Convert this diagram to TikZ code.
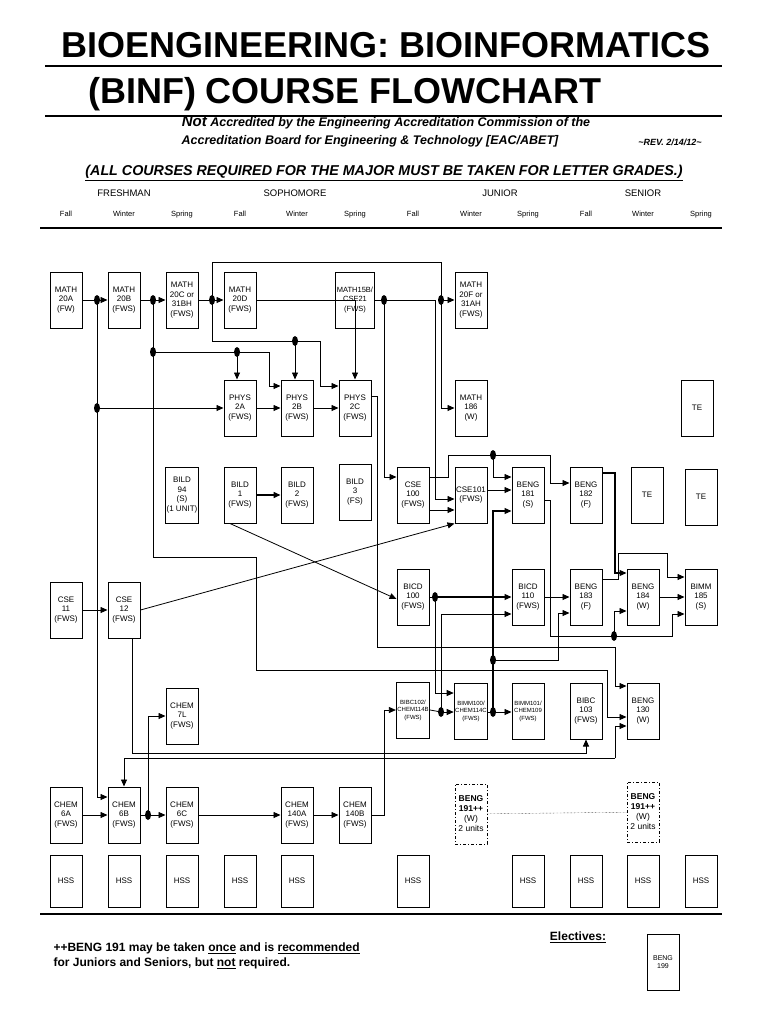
\documentclass[tikz,border=0pt]{standalone}
\usepackage{fontspec}
\setmainfont{Liberation Sans}
\usetikzlibrary{arrows.meta,shapes.geometric}
\begin{document}
\begin{tikzpicture}[x=1pt,y=-1pt,
 box/.style={draw,line width=1pt,minimum width=32pt,minimum height=56pt,align=center,inner sep=1pt,font=\fontsize{8}{9.5}\selectfont},
 sbox/.style={box,font=\fontsize{6}{7.5}\selectfont},
 dbox/.style={box,dash dot,line width=0.8pt,minimum height=60pt,font=\fontsize{8.5}{10}\selectfont},
 dot/.style={ellipse,fill=black,minimum width=6pt,minimum height=10pt,inner sep=0pt},
 arr/.style={-{Triangle[length=7pt,width=6pt]}},
 ln/.style={line width=0.8pt}]
\useasboundingbox (0,0) rectangle (768,1024);
\fill[white] (0,0) rectangle (768,1024);
% header
\node[font=\fontsize{36}{38}\bfseries] (t1) at (386,45) {BIOENGINEERING: BIOINFORMATICS};
\node[font=\fontsize{36}{38}\bfseries] (t2) at (345,94) {(BINF) COURSE FLOWCHART};
\draw[line width=2pt] (45,66) -- (722,66);
\draw[line width=2pt] (45,116) -- (722,116);
\node[font=\fontsize{12.5}{14}\bfseries\itshape] (s1) at (386,123) {{\fontsize{15}{16}\selectfont Not} Accredited by the Engineering Accreditation Commission of the};
\node[font=\fontsize{12.5}{14}\bfseries\itshape] (s2) at (370,141) {Accreditation Board for Engineering \& Technology [EAC/ABET]};
\node[font=\fontsize{9}{10}\bfseries\itshape] (rev) at (670,142) {\textasciitilde REV. 2/14/12\textasciitilde};
\node[font=\fontsize{14.3}{16}\bfseries\itshape] (all) at (384,173) {\underline{(ALL COURSES REQUIRED FOR THE MAJOR MUST BE TAKEN FOR LETTER GRADES.)}};
\foreach \t/\x in {FRESHMAN/124,SOPHOMORE/295,JUNIOR/500,SENIOR/643}
  \node[font=\fontsize{9.5}{11}\selectfont,anchor=base] at (\x,197) {\t};
\foreach \t/\x in {Fall/66,Winter/124,Spring/182,Fall/240,Winter/297,Spring/355,Fall/413,Winter/471,Spring/528,Fall/586,Winter/643,Spring/701}
  \node[font=\fontsize{7.5}{9}\selectfont,anchor=base] at (\x,217) {\t};
\draw[line width=1.2pt] (40,228) -- (722,228);
\draw[line width=1.2pt] (40,914) -- (722,914);
% row 1
\node[box] (m20a) at (66,300) {MATH\\20A\\(FW)};
\node[box] (m20b) at (124,300) {MATH\\20B\\(FWS)};
\node[box] (m20c) at (182,300) {MATH\\20C or\\31BH\\(FWS)};
\node[box] (m20d) at (240,300) {MATH\\20D\\(FWS)};
\node[box,font=\fontsize{7.5}{9.5}\selectfont] (m15b) at (355,300) {MATH15B/\\CSE21\\(FWS)};
\node[box] (m20f) at (471,300) {MATH\\20F or\\31AH\\(FWS)};
% row 2
\node[box] (p2a) at (240,408) {PHYS\\2A\\(FWS)};
\node[box] (p2b) at (297,408) {PHYS\\2B\\(FWS)};
\node[box] (p2c) at (355,408) {PHYS\\2C\\(FWS)};
\node[box] (m186) at (471,408) {MATH\\186\\(W)};
\node[box] (te1) at (697,408) {TE};
% row 3
\node[box] (bild94) at (182,495) {BILD\\94\\(S)\\(1 UNIT)};
\node[box] (bild1) at (240,495) {BILD\\1\\(FWS)};
\node[box] (bild2) at (297,495) {BILD\\2\\(FWS)};
\node[box] (bild3) at (355,492) {BILD\\3\\(FS)};
\node[box] (c100) at (413,495) {CSE\\100\\(FWS)};
\node[box] (c101) at (471,495) {CSE101\\(FWS)};
\node[box] (b181) at (528,495) {BENG\\181\\(S)};
\node[box] (b182) at (586,495) {BENG\\182\\(F)};
\node[box] (te2) at (647,495) {TE};
\node[box] (te3) at (701,497) {TE};
% row 4
\node[box] (c11) at (66,610) {CSE\\11\\(FWS)};
\node[box] (c12) at (124,610) {CSE\\12\\(FWS)};
\node[box] (bicd100) at (413,597) {BICD\\100\\(FWS)};
\node[box] (bicd110) at (528,597) {BICD\\110\\(FWS)};
\node[box] (b183) at (586,597) {BENG\\183\\(F)};
\node[box] (b184) at (643,597) {BENG\\184\\(W)};
\node[box] (bimm185) at (701,597) {BIMM\\185\\(S)};
% row 5
\node[box] (c7l) at (182,716) {CHEM\\7L\\(FWS)};
\node[sbox] (b102) at (413,710) {BIBC102/\\CHEM114B\\(FWS)};
\node[sbox] (bimm100) at (471,711) {BIMM100/\\CHEM114C\\(FWS)};
\node[sbox] (bimm101) at (528,711) {BIMM101/\\CHEM109\\(FWS)};
\node[box] (b103) at (586,711) {BIBC\\103\\(FWS)};
\node[box] (b130) at (643,711) {BENG\\130\\(W)};
% row 6
\node[box] (c6a) at (66,815) {CHEM\\6A\\(FWS)};
\node[box] (c6b) at (124,815) {CHEM\\6B\\(FWS)};
\node[box] (c6c) at (182,815) {CHEM\\6C\\(FWS)};
\node[box] (c140a) at (297,815) {CHEM\\140A\\(FWS)};
\node[box] (c140b) at (355,815) {CHEM\\140B\\(FWS)};
\node[dbox] (b191a) at (471,814) {\textbf{BENG}\\\textbf{191++}\\(W)\\2 units};
\node[dbox] (b191b) at (643,812) {\textbf{BENG}\\\textbf{191++}\\(W)\\2 units};
\draw[densely dotted] (b191a) -- (b191b);
% HSS
\foreach \x/\n in {66/h1,124/h2,182/h3,240/h4,297/h5,413/h6,528/h7,586/h8,643/h9,701/h10}
  \node[box,minimum height=52pt] (\n) at (\x,881) {HSS};
% footer
\node[font=\fontsize{12}{15}\bfseries,align=left,anchor=west] (ft) at (50,956) {++BENG 191 may be taken \underline{once} and is \underline{recommended}\\for Juniors and Seniors, but \underline{not} required.};
\node[font=\fontsize{12}{14}\bfseries] (el) at (578,937) {\underline{Electives:}};
\node[box,font=\fontsize{7}{8.5}\selectfont] (b199) at (663,962) {BENG\\199};
% dots
\node[dot] (d1) at (97,300) {};
\node[dot] (d2) at (153,300) {};
\node[dot] (d3) at (212,300) {};
\node[dot] (d4) at (97,408) {};
\node[dot] (d5) at (153,352) {};
\node[dot] (d6) at (237,352) {};
\node[dot] (d7) at (441,300) {};
\node[dot] (d8) at (295,341) {};
\node[dot] (d9) at (384,300) {};
\node[dot] (d10) at (493,455) {};
\node[dot] (d11) at (614,636) {};
\node[dot] (d12) at (435,597) {};
\node[dot] (d13) at (441,712) {};
\node[dot] (d14) at (493,712) {};
\node[dot] (d15) at (493,660) {};
\node[dot] (d16) at (148,815) {};
\coordinate (j1) at (615,758);
% connectors
\begin{scope}[ln]
\draw (m20a) -- (d1); \draw[arr] (d1.center) -- (m20b);
\draw (m20b) -- (d2); \draw[arr] (d2.center) -- (m20c);
\draw (m20c) -- (d3); \draw[arr] (d3.center) -- (m20d);
\draw (d1.center) -- (d4.center); \draw[arr] (d4.center) -- (p2a);
\draw[arr] (d4.center) |- ([yshift=18pt]c6b.west);
\draw (d2.center) -- (d5.center) -- (d6.center);
\draw[arr] (d6.center) -- (d6 |- p2a.north);
\draw[arr] (d6.center) -| (269,386) -- ([yshift=22pt]p2b.west);
\draw[arr] (d5.center) |- (256,557) |- (607,670) |- ([yshift=-6pt]b130.west);
\draw (d3.center) |- (441,262) -- (d7.center); \draw[arr] (d7.center) -- (m20f);
\draw[arr] (d7.center) |- (m186.west);
\draw (d3.center) |- (d8.center); \draw[arr] (d8.center) -- (d8 |- p2b.north);
\draw[arr] (d8.center) -| (320,386) -- ([yshift=22pt]p2c.west);
\draw[arr] (m20d.east) -| (p2c.north);
\draw[arr] (p2a) -- (p2b); \draw[arr] (p2b) -- (p2c);
\draw[arr] ([yshift=12pt]p2c.east) -| (377,647) -| (615,686) -- ([yshift=25pt]b130.west);
\draw (m15b.east) -- (d9.center);
\draw[arr] (d9.center) -| (435,499) -- ([yshift=-4pt]c101.west);
\draw[arr] (d9.center) |- ([yshift=18pt]c100.west);
\draw[arr] ([yshift=-15pt]c100.east) -- ([yshift=-15pt]c101.west);
\draw ([yshift=18pt]c100.east) -| (448,455) -- (d10.center);
\draw[arr] (d10.center) |- ([yshift=18pt]b181.west);
\draw[arr] (d10.center) -| (550,483) -- ([yshift=12pt]b182.west);
\draw[arr] ([yshift=5pt]c101.east) -- ([yshift=5pt]b181.west);
\draw ([yshift=-5pt]b181.east) -| (550,636) -- (d11.center);
\draw[arr] (d11.center) |- ([yshift=-14pt]b184.west);
\draw[arr] (d11.center) -| (672,614) -- ([yshift=-17pt]bimm185.west);
\draw[arr,line width=1.2pt] ([yshift=22pt]b182.east) -| (615,573) -- ([yshift=24pt]b184.west);
\draw[arr] ([yshift=18pt]b183.east) -| (618,553) -| (667,577) -- ([yshift=20pt]bimm185.west);
\draw[arr] (b184) -- (bimm185);
\draw (bicd100.east) -- (d12.center);
\draw[arr,line width=1.2pt] (d12.center) -- (bicd110.west);
\draw[arr] (bicd110) -- (b183);
\draw[arr] (d12.center) |- ([yshift=18pt]bimm100.west);
\draw (b102.east) -- (d13.center);
\draw[arr] (d13.center) -- (bimm100.west |- d13);
\draw[arr] (d13.center) |- ([yshift=-17pt]bicd110.west);
\draw (bimm100.east |- d14) -- (d14.center);
\draw[arr] (d14.center) -- (bimm101.west |- d14);
\draw[arr,line width=1.2pt] (d14.center) |- ([yshift=-16pt]b181.west);
\draw[arr] (d15.center) -| (558,613) -- ([yshift=-16pt]b183.west);
\draw[arr] (c11) -- (c12);
\draw[arr] (c12.east) -- (c101.south west);
\draw[arr,line width=1.5pt] (bild1) -- (bild2);
\draw[arr] ([xshift=-10pt]bild1.south) -- ([yshift=-2pt]bicd100.west);
\draw[arr] ([xshift=8pt]c12.south) |- (586,753) -- (b103.south);
\draw[arr] (j1) -| (c6b.north);
\draw[arr] (j1) |- ([yshift=-15pt]b130.west);
\draw[arr] (c6a) -- (c6b);
\draw (c6b) -- (d16); \draw[arr] (d16.center) -- (c6c);
\draw[arr] (d16.center) |- (c7l.west);
\draw[arr] (c6c) -- (c140a); \draw[arr] (c140a) -- (c140b);
\draw[arr] (c140b.east) -| (384,710) -- (b102.west);
\end{scope}
\end{tikzpicture}
\end{document}
